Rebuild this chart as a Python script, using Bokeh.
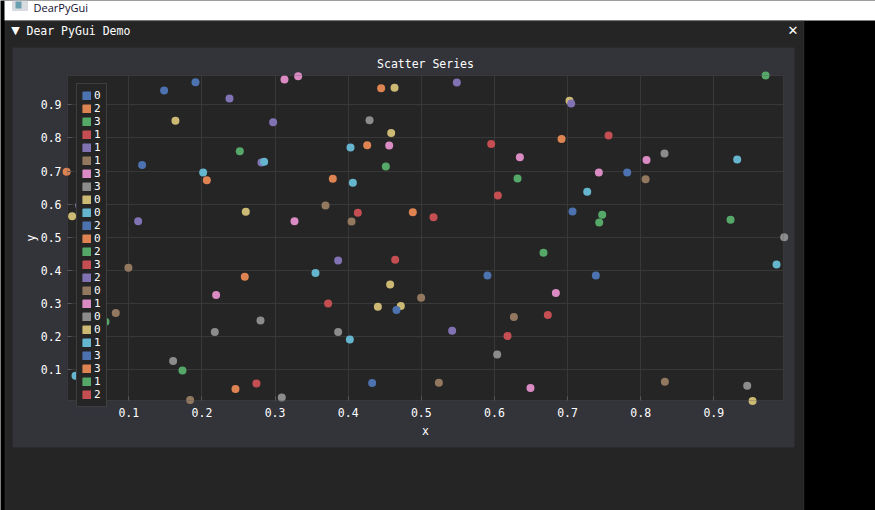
from bokeh.embed import file_html
from bokeh.resources import INLINE
from bokeh.plotting import figure
from bokeh.models import (BoxAnnotation, FixedTicker, Label, Legend, LegendItem, Range1d)

# ---------- data ----------
x_ticks = [0.1, 0.2, 0.3, 0.4, 0.5, 0.6, 0.7, 0.8, 0.9]
y_ticks = [0.1, 0.2, 0.3, 0.4, 0.5, 0.6, 0.7, 0.8, 0.9]

blue_x = [0.1483, 0.1912, 0.1182, 0.7816, 0.7068, 0.5905, 0.4661, 0.4328, 0.7387]
blue_y = [0.9433, 0.9684, 0.7179, 0.6957, 0.5780, 0.3849, 0.2803, 0.0599, 0.3849]
orange_x = [0.0150, 0.2067, 0.4451, 0.4260, 0.3790, 0.4884, 0.6918, 0.2586, 0.2459]
orange_y = [0.6977, 0.6726, 0.9503, 0.7782, 0.6766, 0.5760, 0.7964, 0.3809, 0.0418]
green_x = [0.2518, 0.4515, 0.6316, 0.9708, 0.7474, 0.7433, 0.9229, 0.0681, 0.1734, 0.6671]
green_y = [0.7601, 0.7138, 0.6776, 0.9886, 0.5679, 0.5448, 0.5528, 0.2450, 0.0981, 0.4533]
red_x = [0.5956, 0.6047, 0.4132, 0.5167, 0.7561, 0.2746, 0.4643, 0.3726, 0.6730, 0.6179]
red_y = [0.7813, 0.6263, 0.5740, 0.5609, 0.8074, 0.0589, 0.4322, 0.3004, 0.2652, 0.2018]
purple_x = [0.2377, 0.2974, 0.2814, 0.0321, 0.1128, 0.5486, 0.7050, 0.3863, 0.5422]
purple_y = [0.9191, 0.8477, 0.7259, 0.5961, 0.5488, 0.9674, 0.9040, 0.4302, 0.2179]
brown_x = [0.3690, 0.4046, 0.8067, 0.0995, 0.0822, 0.1839, 0.4998, 0.6266, 0.5240, 0.8331]
brown_y = [0.5961, 0.5478, 0.6756, 0.4081, 0.2712, 0.0086, 0.3175, 0.2591, 0.0609, 0.0639]
pink_x = [0.3129, 0.3316, 0.3266, 0.4561, 0.6348, 0.8080, 0.7428, 0.2194, 0.6493, 0.6840]
pink_y = [0.9765, 0.9865, 0.5488, 0.7772, 0.7420, 0.7330, 0.6957, 0.3255, 0.0448, 0.3316]
gray_x = [0.4292, 0.8326, 0.9963, 0.2801, 0.2176, 0.1606, 0.3092, 0.3863, 0.6038, 0.9457]
gray_y = [0.8537, 0.7531, 0.5005, 0.2491, 0.2138, 0.1263, 0.0166, 0.2138, 0.1464, 0.0518]
yellow_x = [0.1638, 0.0225, 0.2600, 0.4634, 0.4588, 0.7027, 0.4574, 0.4406, 0.4720, 0.9530]
yellow_y = [0.8517, 0.5639, 0.5770, 0.9513, 0.8145, 0.9121, 0.3577, 0.2903, 0.2923, 0.0055]
cyan_x = [0.2851, 0.2017, 0.4032, 0.4064, 0.7269, 0.9320, 0.3553, 0.4023, 0.0271, 0.9858]
cyan_y = [0.7279, 0.6957, 0.7712, 0.6645, 0.6374, 0.7350, 0.3919, 0.1917, 0.0820, 0.4181]

legend_labels = ["0", "2", "3", "1", "1", "1", "3", "3", "0", "0", "2", "0",
                 "2", "3", "2", "0", "1", "0", "0", "1", "3", "3", "1", "2"]

# ---------- styles ----------
BLUE, ORANGE, GREEN, RED, PURPLE = "#4C72B0", "#DD8452", "#55A868", "#C44E52", "#8172B3"
BROWN, PINK, GRAY, YELLOW, CYAN = "#937860", "#DA8BC3", "#8C8C8C", "#CCB974", "#64B5CD"
PALETTE = [BLUE, ORANGE, GREEN, RED, PURPLE, BROWN, PINK, GRAY, YELLOW, CYAN]
WINDOW, PANEL, EDGE, GRID = "#252525", "#33333a", "#58585c", "#383838"
MONO = "DejaVu Sans Mono"
MONO_SIZE = "11.5px"
NAN = float("nan")

# plot box (axes area) in data units; the frame fills the page so the window chrome can be drawn
PLOT_X = (0.01617, 0.99514)
PLOT_Y = (0.00732, 0.98845)

p = figure(width=875, height=510, output_backend="svg", toolbar_location=None, title=None,
           x_range=Range1d(-0.07545, 1.12113), y_range=Range1d(-0.32475, 1.21487),
           min_border_left=0, min_border_right=0, min_border_top=0, min_border_bottom=0,
           border_fill_color="#000000", background_fill_color="#000000", outline_line_color=None)


def box(l, r, t, b, fill, line=None, level="image"):
    p.add_layout(BoxAnnotation(left=l, right=r, top=t, bottom=b, left_units="canvas", right_units="canvas",
                               top_units="canvas", bottom_units="canvas", fill_color=fill, fill_alpha=1.0,
                               line_color=line, level=level))


box(4, 875, 0, 20, "#ffffff")            # OS title bar
box(12, 27, 0, 10, "#d8dce0", "#a8acb0")  # app icon
box(15, 21, 1, 8, "#6a9fb0")
box(4.5, 803.5, 20.5, 512, WINDOW, "#4a4a4a")  # window
box(12, 794, 47, 447, PANEL)             # plot panel
p.add_layout(BoxAnnotation(left=PLOT_X[0], right=PLOT_X[1], bottom=PLOT_Y[0], top=PLOT_Y[1],
                           fill_color=WINDOW, fill_alpha=1.0, line_color=None, level="image"))
p.add_layout(BoxAnnotation(left=PLOT_X[0], right=PLOT_X[1], bottom=PLOT_Y[0], top=PLOT_Y[1],
                           fill_color=None, line_color=EDGE, line_width=1, level="guide"))

# axes
for ax, ticks, loc, bounds in ((p.xaxis[0], x_ticks, PLOT_Y[0], PLOT_X), (p.yaxis[0], y_ticks, PLOT_X[0], PLOT_Y)):
    ax.fixed_location = loc
    ax.bounds = bounds
    ax.ticker = FixedTicker(ticks=ticks)
    ax.axis_line_color = None
    ax.major_tick_line_color = EDGE
    ax.major_tick_in = 4
    ax.major_tick_out = 0
    ax.minor_tick_line_color = None
    ax.major_label_text_color = "#ffffff"
    ax.major_label_text_font = MONO
    ax.major_label_text_font_size = MONO_SIZE
    ax.axis_label_text_color = "#ffffff"
    ax.axis_label_text_font = MONO
    ax.axis_label_text_font_size = MONO_SIZE
    ax.axis_label_text_font_style = "normal"
p.xaxis[0].axis_label = "x"
p.yaxis[0].axis_label = "y"
p.xaxis[0].major_label_standoff = 7
p.yaxis[0].major_label_standoff = 6
p.xaxis[0].axis_label_standoff = 4
p.yaxis[0].axis_label_standoff = 0

for g, ticks, bounds, cross in ((p.xgrid[0], x_ticks, PLOT_X, PLOT_Y), (p.ygrid[0], y_ticks, PLOT_Y, PLOT_X)):
    g.ticker = FixedTicker(ticks=ticks)
    g.bounds = bounds
    g.cross_bounds = cross
    g.grid_line_color = GRID
    g.grid_line_width = 1

# points (draw order keeps the overlaps of the reference)
for xs, ys, c in ((yellow_x, yellow_y, YELLOW), (purple_x, purple_y, PURPLE), (cyan_x, cyan_y, CYAN),
                  (blue_x, blue_y, BLUE), (orange_x, orange_y, ORANGE), (green_x, green_y, GREEN),
                  (red_x, red_y, RED), (brown_x, brown_y, BROWN), (pink_x, pink_y, PINK),
                  (gray_x, gray_y, GRAY)):
    p.scatter(xs, ys, size=8, marker="circle", fill_color=c, line_color=None)

# legend: swatch renderers draw nothing in the plot, they only give each row its coloured key
items = []
for i, lab in enumerate(legend_labels):
    c = PALETTE[i % len(PALETTE)]
    r = p.quad(left=[NAN], right=[NAN], top=[NAN], bottom=[NAN], fill_color=c, line_color=c, line_width=2,
               line_join="round")
    items.append(LegendItem(label=lab, renderers=[r]))
legend = Legend(items=items, location=(76, 103), orientation="vertical", glyph_width=9, glyph_height=9,
                label_height=13, label_width=7, label_standoff=3, spacing=0, padding=5, margin=0,
                background_fill_color=WINDOW, background_fill_alpha=1.0,
                border_line_color=EDGE, border_line_width=1,
                label_text_color="#ffffff", label_text_font=MONO, label_text_font_size="11px")
p.add_layout(legend)

# the legend is cut off at the bottom of the plot box
box(74, 108, 401, 410, PANEL, level="overlay")
box(76, 106, 400, 401, EDGE, level="overlay")


def text(x, y, s, font=MONO, size=MONO_SIZE, color="#ffffff", align="left"):
    p.add_layout(Label(x=x, y=y, x_units="canvas", y_units="canvas", text=s, text_font=font, text_font_size=size,
                       text_color=color, text_align=align, text_baseline="middle", level="overlay"))


text(33, 7, "DearPyGui", font="Open Sans", size="11px", color="#101030")
text(26, 30, "Dear PyGui Demo")
text(425, 63.5, "Scatter Series", align="center")
text(15, 30, "▼", font="DejaVu Sans", size="11px", align="center")
text(792.5, 29.5, "✕", font="DejaVu Sans", size="13px", align="center")

open("out.html", "w").write(file_html(p, INLINE))
